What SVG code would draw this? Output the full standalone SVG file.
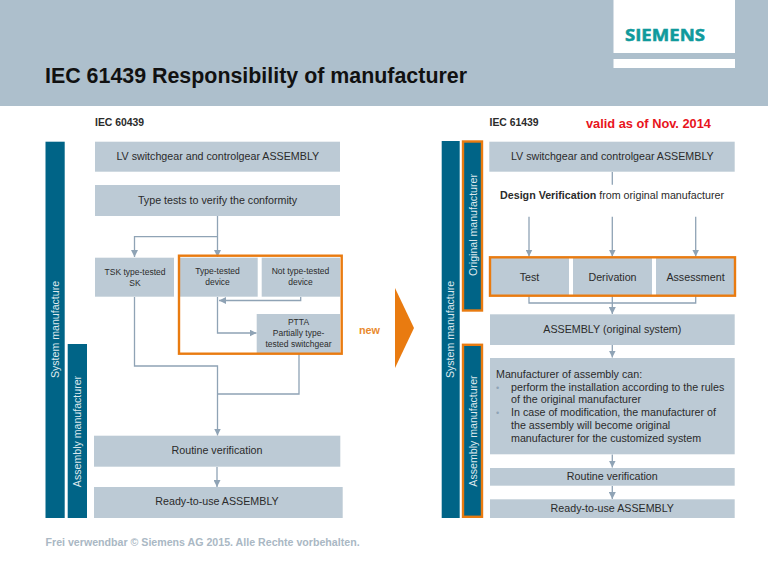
<svg xmlns="http://www.w3.org/2000/svg" width="768" height="576" viewBox="0 0 768 576">
<style>
text{font-family:"Liberation Sans",Arial,sans-serif;fill:#2b2b2b}
.box{fill:#bccad5}
.bar{fill:#006487}
.hl{fill:none;stroke:#e97b10;stroke-width:2.4}
.c{font-size:10.7px;text-anchor:middle}
.s{font-size:8.5px;text-anchor:middle}
.v{font-size:10.6px;fill:#dfe9ee;text-anchor:middle}
.lbl{font-size:10.4px;font-weight:bold}
.l{fill:none;stroke:#8fa3b5;stroke-width:1.3}
.m{font-size:10.7px}
</style>
<defs><marker id="a" markerUnits="userSpaceOnUse" markerWidth="8" markerHeight="7" refX="7" refY="3.5" orient="auto"><path d="M0 0L7 3.5L0 7z" fill="#8fa3b5"/></marker></defs>
<rect width="768" height="576" fill="#fff"/>
<g id="header">
<rect width="768" height="106" fill="#adbfcc"/>
<rect x="613.5" width="121.5" height="53" fill="#fff"/>
<rect x="613.5" y="59" width="121.5" height="9" fill="#fff"/>
<text x="625" y="41" font-size="16.5" font-weight="bold" textLength="80" lengthAdjust="spacingAndGlyphs" stroke="#109a9c" stroke-width="0.5" style="font-family:'Open Sans',sans-serif;fill:#109a9c">SIEMENS</text>
<text x="45" y="83" font-size="21.4" font-weight="bold" style="fill:#111">IEC 61439 Responsibility of manufacturer</text>
</g>
<g id="connectors">
<path class="l" marker-end="url(#a)" d="M217.5 216V257"/>
<path class="l" marker-end="url(#a)" d="M217.5 236.700H134.500V257"/>
<path class="l" marker-end="url(#a)" d="M134.500 297V366H217.500V435.500"/>
<path class="l" d="M299 354V394H217.500"/>
<path class="l" marker-end="url(#a)" d="M300.700 297V300.500H219"/>
<path class="l" marker-end="url(#a)" d="M217.500 297V333H256.500"/>
<path class="l" marker-end="url(#a)" d="M217 467V487"/>
<path class="l" d="M612.300 172V184.700"/>
<path class="l" marker-end="url(#a)" d="M529 216.700V256.500"/>
<path class="l" marker-end="url(#a)" d="M612.300 216.700V256.500"/>
<path class="l" marker-end="url(#a)" d="M695.700 216.700V256.500"/>
<path class="l" d="M529 296V303H695.700V296"/>
<path class="l" marker-end="url(#a)" d="M612.300 296V314"/>
<path class="l" marker-end="url(#a)" d="M612.300 345V357.500"/>
<path class="l" marker-end="url(#a)" d="M612.300 454.500V467.500"/>
<path class="l" marker-end="url(#a)" d="M612.300 486V499"/>
</g>
<g id="left-heading"><text class="lbl" x="95" y="126">IEC 60439</text></g>
<g id="left-system"><rect class="bar" x="45.500" y="141.700" width="19.200" height="376.300"/><text class="v" transform="translate(58.500 329.500) rotate(-90)">System manufacture</text></g>
<g id="left-assembly"><rect class="bar" x="67.700" y="344" width="19.300" height="174"/><text class="v" transform="translate(81 431.500) rotate(-90)">Assembly manufacturer</text></g>
<g id="left-lv"><rect class="box" x="95" y="141.700" width="245" height="30"/><text class="c" x="217.800" y="160">LV switchgear and controlgear ASSEMBLY</text></g>
<g id="left-type-tests"><rect class="box" x="95" y="185" width="245" height="31"/><text class="c" x="217.500" y="204">Type tests to verify the conformity</text></g>
<g id="left-tsk"><rect class="box" x="95" y="257.700" width="79" height="39"/><text class="s" x="135" y="275">TSK type-tested</text><text class="s" x="135" y="285.500">SK</text></g>
<g id="left-type-tested"><rect class="box" x="180" y="257.700" width="77.700" height="39"/><text class="s" x="217.500" y="274">Type-tested</text><text class="s" x="217.500" y="285">device</text></g>
<g id="left-not-tested"><rect class="box" x="261.700" y="257.700" width="78.300" height="39"/><text class="s" x="300.500" y="274">Not type-tested</text><text class="s" x="300.500" y="285">device</text></g>
<g id="left-ptta"><rect class="box" x="256.700" y="314" width="83.300" height="39"/><text class="s" x="298.500" y="324.500">PTTA</text><text class="s" x="298.500" y="335.500">Partially type-</text><text class="s" x="298.500" y="346.500">tested switchgear</text></g>
<g id="left-highlight"><rect class="hl" x="179" y="255.700" width="162.700" height="98"/></g>
<g id="left-routine"><rect class="box" x="94" y="435.700" width="246.300" height="31"/><text class="c" x="217" y="453.500">Routine verification</text></g>
<g id="left-ready"><rect class="box" x="94" y="487" width="248.700" height="31"/><text class="c" x="217" y="505">Ready-to-use ASSEMBLY</text></g>
<g id="new-arrow"><text x="359" y="333.500" font-size="10.800" font-weight="bold" style="fill:#e98a2e">new</text><path d="M395 288L414 328L395 368z" fill="#e97b10"/></g>
<g id="right-heading"><text class="lbl" x="489.500" y="126">IEC 61439</text><text x="586" y="128" font-size="12.800" font-weight="bold" style="fill:#e8141c">valid as of Nov. 2014</text></g>
<g id="right-system"><rect class="bar" x="441.700" y="141" width="18" height="377"/><text class="v" transform="translate(454 329.500) rotate(-90)">System manufacture</text></g>
<g id="right-original"><rect class="bar" x="463" y="141.500" width="19" height="169"/><rect class="hl" x="463" y="141.500" width="19" height="169"/><text class="v" transform="translate(477 225) rotate(-90)">Original manufacturer</text></g>
<g id="right-assembly"><rect class="bar" x="463" y="344.800" width="19" height="172"/><rect class="hl" x="463" y="344.800" width="19" height="172"/><text class="v" transform="translate(477 431) rotate(-90)">Assembly manufacturer</text></g>
<g id="right-lv"><rect class="box" x="489.300" y="141.700" width="245.400" height="30"/><text class="c" x="612.300" y="160">LV switchgear and controlgear ASSEMBLY</text></g>
<g id="right-design"><text class="c" x="612" y="199"><tspan font-weight="bold">Design Verification</tspan> from original manufacturer</text></g>
<g id="right-test"><rect class="box" x="490" y="258" width="79" height="37"/><text class="c" x="529.500" y="281">Test</text></g>
<g id="right-derivation"><rect class="box" x="573" y="258" width="79" height="37"/><text class="c" x="612.500" y="281">Derivation</text></g>
<g id="right-assessment"><rect class="box" x="656" y="258" width="79" height="37"/><text class="c" x="695.500" y="281">Assessment</text></g>
<g id="right-highlight"><rect class="hl" x="490" y="257.300" width="245" height="38.400"/></g>
<g id="right-original-system"><rect class="box" x="490" y="314.300" width="244.700" height="30.700"/><text class="c" x="612.300" y="332.500">ASSEMBLY (original system)</text></g>
<g id="right-manufacturer"><rect class="box" x="490" y="358" width="244.700" height="96.300"/>
<text class="m" x="496" y="378">Manufacturer of assembly can:</text>
<text class="m" x="511" y="391">perform the installation according to the rules</text>
<text class="m" x="511" y="403.300">of the original manufacturer</text>
<text class="m" x="511" y="416">In case of modification, the manufacturer of</text>
<text class="m" x="511" y="429">the assembly will become original</text>
<text class="m" x="511" y="441.500">manufacturer for the customized system</text>
<text x="496" y="391" font-size="9" style="fill:#8fa3b5">•</text><text x="496" y="416" font-size="9" style="fill:#8fa3b5">•</text></g>
<g id="right-routine"><rect class="box" x="490" y="468" width="244.700" height="17.700"/><text class="c" x="612.300" y="480">Routine verification</text></g>
<g id="right-ready"><rect class="box" x="490" y="499.300" width="244.700" height="18.700"/><text class="c" x="612.300" y="512">Ready-to-use ASSEMBLY</text></g>
<g id="footer"><text x="45.500" y="545.500" font-size="10.640" font-weight="bold" style="fill:#aab8c4">Frei verwendbar © Siemens AG 2015. Alle Rechte vorbehalten.</text></g>
</svg>
